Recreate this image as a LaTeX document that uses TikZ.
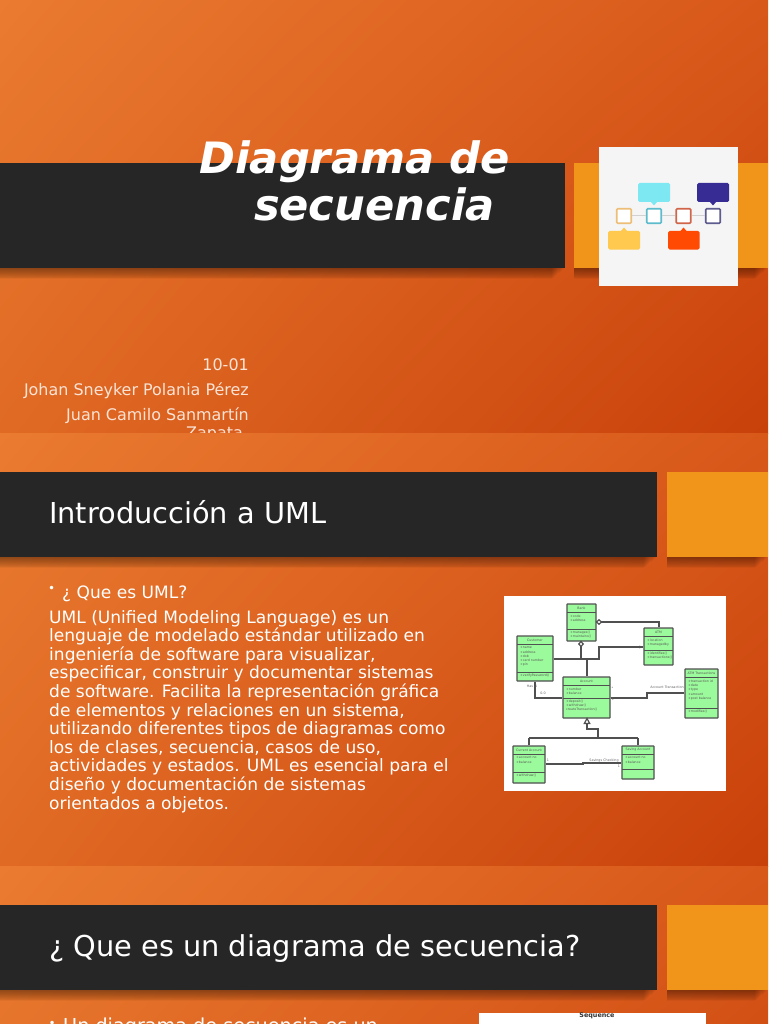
\documentclass[tikz,border=0pt]{standalone}
\usepackage{fontspec}
\setmainfont{DejaVu Sans}
\usetikzlibrary{calc,arrows.meta,shadings}
\definecolor{darkbar}{HTML}{262626}
\definecolor{accent}{HTML}{F0941A}
\definecolor{ogA}{HTML}{EA7B30}
\definecolor{ogB}{HTML}{D8581A}
\definecolor{ogC}{HTML}{E06A24}
\definecolor{ogD}{HTML}{C8400A}
\definecolor{subtxt}{HTML}{FBE3D6}
\definecolor{umlgreen}{HTML}{9BFA9B}
\definecolor{umlline}{HTML}{505050}
\definecolor{bubY}{HTML}{FFC84F}
\definecolor{bubR}{HTML}{FF4A04}
\definecolor{bubC}{HTML}{7DE8F2}
\definecolor{bubN}{HTML}{372C93}
\definecolor{sqY}{HTML}{EDBE78}
\definecolor{sqC}{HTML}{5CBCCB}
\definecolor{sqR}{HTML}{D0654A}
\definecolor{sqN}{HTML}{5E5C8E}
\newcommand{\slidebg}[1]{\shade[upper left=ogA,upper right=ogB,lower left=ogC,lower right=ogD] (0,#1) rectangle (768,#1+433);}
\newcommand{\barshadow}[4]{\foreach \i in {1,...,12}{\fill[black,opacity=.035] (#1,#3) rectangle (#2-\i*1.1,#4+\i*0.95);}}
\newcommand{\umlclass}[9]{%
 \node[umlbox,minimum width={#4-#2},minimum height={#5-#3}] (#1) at ({(#2+#4)/2},{(#3+#5)/2}) {};
 \draw[umldiv] (#2,#3+8) -- (#4,#3+8);
 \draw[umldiv] (#2,#6) -- (#4,#6);
 \node[umltxt,anchor=center] (#1t) at ({(#2+#4)/2},#3+4) {#7};
 \node[umltxt,anchor=north west] (#1a) at (#2+3,#3+10.5) {#8};
 \node[umltxt,anchor=north west] (#1o) at (#2+3,#6+1.6) {#9};}
\tikzset{
 x=1pt,y=-1pt,
 bartitle/.style={text=white,font=\fontsize{28.8}{28.8}\selectfont,anchor=base west,inner sep=0pt},
 maintitle/.style={text=white,font=\fontsize{43.2}{43.2}\selectfont\bfseries\itshape,anchor=base,inner sep=0pt},
 subline/.style={text=subtxt,font=\fontsize{15.95}{15.95}\selectfont,anchor=base east,inner sep=0pt},
 bodytxt/.style={text=white,font=\fontsize{17.05}{18.6}\selectfont,anchor=north west,inner sep=0pt,align=left},
 lasttxt/.style={text=white,font=\fontsize{19.2}{19.2}\selectfont,anchor=base west,inner sep=0pt},
 umlbox/.style={draw=umlline,fill=umlgreen,line width=1.1pt,inner sep=0pt,rounded corners=.5pt},
 umldiv/.style={draw=umlline,line width=.9pt},
 umltxt/.style={text=black!65,font=\fontsize{3.2}{4.3}\selectfont,inner sep=0pt,align=left},
 umlconn/.style={draw=umlline,line width=1.2pt},
 umllab/.style={text=black!60,font=\fontsize{3.3}{3.3}\selectfont,inner sep=0pt},
 bubble/.style={rounded corners=1.5pt},
 stepsq/.style={fill=white,line width=1.7pt,minimum size=14.5pt,inner sep=0pt,rounded corners=1pt},
}
\begin{document}
\begin{tikzpicture}
\useasboundingbox (0,0) rectangle (768,1024);
\clip (0,0) rectangle (768,1024);
% ---------- slide 1
\slidebg{0}
\barshadow{0}{565}{240}{268}
\fill[darkbar] (0,163) rectangle (565,268);
\barshadow{574}{768}{240}{268}
\fill[accent] (574,163) rectangle (768,268);
\node[maintitle] (t1) at (354.5,174) {Diagrama de};
\node[maintitle] (t2) at (374.5,221) {secuencia};
\node[subline] (s1) at (249,370.5) {10-01};
\node[subline] (s2) at (249,395.5) {Johan Sneyker Polania Pérez};
\node[subline] (s3) at (249,420.5) {Juan Camilo Sanmartín};
\node[subline] (s4) at (243,438.5) {Zapata};
% picture on slide 1
\fill[white!96!black] (599,147) rectangle (738,286);
\node[stepsq,draw=sqY] (q1) at (624,216) {};
\node[stepsq,draw=sqC] (q2) at (654,216) {};
\node[stepsq,draw=sqR] (q3) at (683.5,216) {};
\node[stepsq,draw=sqN] (q4) at (713,216) {};
\draw[black!18,line width=1pt] (q1) -- (q2);
\draw[black!18,line width=1pt] (q2) -- (q3);
\draw[black!18,line width=1pt] (q3) -- (q4);
\fill[bubble,fill=bubC] (638,183) rectangle (670,202);
\fill[fill=bubC] (651,202) -- (657,202) -- (654,205.5) -- cycle;
\fill[bubble,fill=bubN] (697,183) rectangle (729,202);
\fill[fill=bubN] (710,202) -- (716,202) -- (713,205.5) -- cycle;
\fill[bubble,fill=bubY] (608,231) rectangle (640,249.5);
\fill[fill=bubY] (621,231) -- (627,231) -- (624,227.5) -- cycle;
\fill[bubble,fill=bubR] (668,231) rectangle (699.5,249.5);
\fill[fill=bubR] (680.5,231) -- (686.5,231) -- (683.5,227.5) -- cycle;
% ---------- slide 2
\slidebg{433}
\barshadow{0}{657}{520}{557}
\fill[darkbar] (0,472) rectangle (657,557);
\barshadow{667}{768}{520}{557}
\fill[accent] (667,472) rectangle (768,557);
\node[bartitle] (t3) at (49,523.5) {Introducción a UML};
\node[bodytxt,anchor=base west] (b0a) at (48,594) {\fontsize{12}{12}\selectfont\raisebox{1.5pt}{\textbullet}};
\node[bodytxt,anchor=base west] (b0) at (62,598) {¿ Que es UML?};
\node[bodytxt] (b1) at (49,610) {UML (Unified Modeling Language) es un\\
lenguaje de modelado estándar utilizado en\\
ingeniería de software para visualizar,\\
especificar, construir y documentar sistemas\\
de software. Facilita la representación gráfica\\
de elementos y relaciones en un sistema,\\
utilizando diferentes tipos de diagramas como\\
los de clases, secuencia, casos de uso,\\
actividades y estados. UML es esencial para el\\
diseño y documentación de sistemas\\
orientados a objetos.};
% UML class diagram picture
\fill[white] (504,596) rectangle (726,791);
\umlclass{bank}{567}{604}{596}{641}{629}{Bank}{+code\\+address}{+manages()\\+maintains()}
\umlclass{atm}{644}{628}{673}{665}{650}{ATM}{+location\\+managedby}{+identifies()\\+transactions()}
\umlclass{cust}{517}{636}{553}{681}{672}{Customer}{+name\\+address\\+dob\\+card number\\+pin}{+verifyPassword()}
\umlclass{acct}{563}{677}{610}{718}{698}{Account}{+number\\+balance}{+deposit()\\+withdraw()\\createTransaction()}
\umlclass{trans}{685}{669}{718}{718}{708}{ATM Transactions}{+transaction id\\+date\\+type\\+amount\\+post balance}{+modifies()}
\umlclass{curr}{513}{746}{545}{783}{772}{Current Account}{+account no\\+balance}{+withdraw()}
\umlclass{sav}{622}{746}{654}{779}{769}{Saving Account}{+account no\\+balance}{}
% connectors
\coordinate (jA) at (581,659);
\coordinate (jB) at (587,659);
\coordinate (jC) at (599,659);
\coordinate (jD) at (599,647);
\coordinate (dBank) at (581,645.5);
\coordinate (dBankR) at (600.5,622);
\coordinate (jE) at (659,622);
\coordinate (jF) at (535,698);
\coordinate (jG) at (647,698);
\coordinate (jH) at (647,693);
\coordinate (jI) at (587,729);
\coordinate (jJ) at (598,729);
\coordinate (jK) at (598,738);
\coordinate (jL) at (529,738);
\coordinate (jM) at (638,738);
\coordinate (jN) at (583,764);
\coordinate (jO) at (583,763);
\coordinate (tri) at (587,723.5);
\draw[umlconn] (cust.east |- jA) -- (jC) -- (jD) -- (atm.west |- jD);
\fill[umlline] (atm.west |- jD) ++(-4,-1.3) -- ++(4,1.3) -- ++(-4,1.3) -- cycle;
\draw[umlconn] (dBank) -- (jA);
\draw[umlconn] (jB) -- (acct.north -| jB);
\draw[umlconn,fill=white] (581,641.5) -- (583.2,644) -- (581,646.5) -- (578.8,644) -- cycle;
\draw[umlconn] (dBankR) -- (jE) -- (atm.north -| jE);
\draw[umlconn,fill=white] (596.5,622) -- (599,619.8) -- (601.5,622) -- (599,624.2) -- cycle;
\draw[umlconn] (cust.south -| jF) -- (jF) -- (acct.west |- jF);
\draw[umlconn] (acct.east |- jG) -- (jG) -- (jH) -- (trans.west |- jH);
\draw[umlconn] (tri) -- (jI) -- (jJ) -- (jK);
\draw[umlconn] (jL) -- (jM);
\draw[umlconn] (jL) -- (curr.north -| jL);
\draw[umlconn] (jM) -- (sav.north -| jM);
\draw[umlconn,fill=white] (587,718.5) -- (589.7,723.5) -- (584.3,723.5) -- cycle;
\draw[umlconn] (curr.east |- jN) -- (jN) -- (jO) -- (sav.west |- jO);
\node[umllab] (l1) at (532,686) {Has .1};
\node[umllab] (l2) at (543,693) {0.0};
\node[umllab] (l3) at (667,687) {Account Transaction};
\node[umllab] (l4) at (612.5,688.5) {*};
\node[umllab] (l5) at (613,699.5) {1};
\node[umllab] (l6) at (604,761) {Savings Checking};
\node[umllab] (l7) at (548,760) {1};
\node[umllab] (l8) at (619,766) {1};
% ---------- slide 3
\slidebg{866}
\barshadow{0}{657}{950}{990}
\fill[darkbar] (0,905) rectangle (657,990);
\barshadow{667}{768}{950}{990}
\fill[accent] (667,905) rectangle (768,990);
\node[bartitle] (t4) at (49,956.5) {¿ Que es un diagrama de secuencia?};
\node[lasttxt] (b2a) at (48.5,1027.5) {\fontsize{12}{12}\selectfont\textbullet};
\node[lasttxt] (b2) at (63,1032.5) {Un diagrama de secuencia es un};
\fill[white] (479,1013) rectangle (706,1024);
\node[inner sep=0pt,text=black!80,font=\fontsize{6.4}{6.4}\selectfont\bfseries] (seq) at (597,1016) {Sequence};
\end{tikzpicture}
\end{document}
